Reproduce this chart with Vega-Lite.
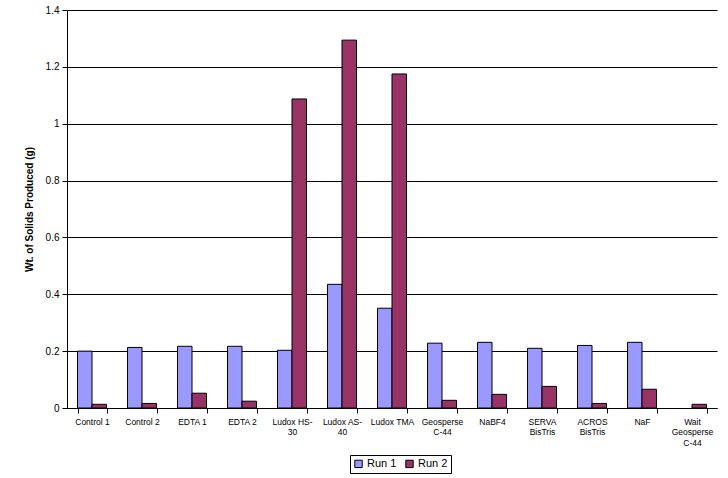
{
  "$schema": "https://vega.github.io/schema/vega-lite/v6.json",
  "width": 650,
  "height": 398,
  "autosize": {"type": "none"},
  "padding": {"left": 67, "top": 10, "right": 11, "bottom": 70},
  "background": "white",
  "config": {
    "font": "Liberation Sans",
    "view": {"stroke": null},
    "axis": {"labelColor": "black", "titleColor": "black", "domainColor": "black", "tickColor": "black"}
  },
  "data": {
    "values": [
      {"cat": "Control 1", "run": "Run 1", "wt": 0.200},
      {"cat": "Control 1", "run": "Run 2", "wt": 0.013},
      {"cat": "Control 2", "run": "Run 1", "wt": 0.213},
      {"cat": "Control 2", "run": "Run 2", "wt": 0.016},
      {"cat": "EDTA 1", "run": "Run 1", "wt": 0.217},
      {"cat": "EDTA 1", "run": "Run 2", "wt": 0.052},
      {"cat": "EDTA 2", "run": "Run 1", "wt": 0.217},
      {"cat": "EDTA 2", "run": "Run 2", "wt": 0.024},
      {"cat": "Ludox HS-30", "run": "Run 1", "wt": 0.203},
      {"cat": "Ludox HS-30", "run": "Run 2", "wt": 1.087},
      {"cat": "Ludox AS-40", "run": "Run 1", "wt": 0.435},
      {"cat": "Ludox AS-40", "run": "Run 2", "wt": 1.294},
      {"cat": "Ludox TMA", "run": "Run 1", "wt": 0.351},
      {"cat": "Ludox TMA", "run": "Run 2", "wt": 1.175},
      {"cat": "Geosperse C-44", "run": "Run 1", "wt": 0.228},
      {"cat": "Geosperse C-44", "run": "Run 2", "wt": 0.027},
      {"cat": "NaBF4", "run": "Run 1", "wt": 0.231},
      {"cat": "NaBF4", "run": "Run 2", "wt": 0.048},
      {"cat": "SERVA BisTris", "run": "Run 1", "wt": 0.210},
      {"cat": "SERVA BisTris", "run": "Run 2", "wt": 0.076},
      {"cat": "ACROS BisTris", "run": "Run 1", "wt": 0.220},
      {"cat": "ACROS BisTris", "run": "Run 2", "wt": 0.016},
      {"cat": "NaF", "run": "Run 1", "wt": 0.231},
      {"cat": "NaF", "run": "Run 2", "wt": 0.066},
      {"cat": "Wait Geosperse C-44", "run": "Run 1", "wt": null},
      {"cat": "Wait Geosperse C-44", "run": "Run 2", "wt": 0.013}
    ]
  },
  "mark": {"type": "bar", "stroke": "black", "strokeWidth": 1},
  "encoding": {
    "x": {
      "field": "cat",
      "type": "nominal",
      "sort": null,
      "scale": {"paddingInner": 0.42, "paddingOuter": 0.21},
      "axis": {
        "title": null,
        "labelAngle": 0,
        "labelFontSize": 8.5,
        "labelPadding": 4,
        "labelLineHeight": 10.5,
        "tickBand": "extent",
        "tickSize": 5,
        "domainWidth": 1,
        "labelExpr": "datum.label == 'Ludox HS-30' ? ['Ludox HS-','30'] : datum.label == 'Ludox AS-40' ? ['Ludox AS-','40'] : datum.label == 'Geosperse C-44' ? ['Geosperse','C-44'] : datum.label == 'SERVA BisTris' ? ['SERVA','BisTris'] : datum.label == 'ACROS BisTris' ? ['ACROS','BisTris'] : datum.label == 'Wait Geosperse C-44' ? ['Wait','Geosperse','C-44'] : datum.label"
      }
    },
    "xOffset": {"field": "run", "type": "nominal", "sort": ["Run 1", "Run 2"], "scale": {"domain": ["Run 1", "Run 2"]}},
    "y": {
      "field": "wt",
      "type": "quantitative",
      "scale": {"domain": [0, 1.4], "nice": false},
      "axis": {
        "title": "Wt. of Solids Produced (g)",
        "titleFontSize": 10,
        "titleFontWeight": "bold",
        "titlePadding": 11,
        "values": [0, 0.2, 0.4, 0.6, 0.8, 1, 1.2, 1.4],
        "format": "~f",
        "labelFontSize": 10,
        "labelPadding": 3,
        "tickSize": 5,
        "grid": true,
        "gridColor": "black",
        "gridOpacity": 1,
        "gridWidth": 1
      }
    },
    "color": {
      "field": "run",
      "type": "nominal",
      "scale": {"domain": ["Run 1", "Run 2"], "range": ["#9999FF", "#993366"]},
      "legend": {
        "title": null,
        "orient": "none",
        "legendX": 283,
        "legendY": 445,
        "direction": "horizontal",
        "symbolType": "square",
        "symbolSize": 55,
        "symbolStrokeColor": "black",
        "symbolStrokeWidth": 1,
        "labelFontSize": 11,
        "labelColor": "black",
        "labelOffset": 3,
        "strokeColor": "black",
        "fillColor": "white",
        "padding": 3,
        "columnPadding": 6
      }
    }
  }
}
